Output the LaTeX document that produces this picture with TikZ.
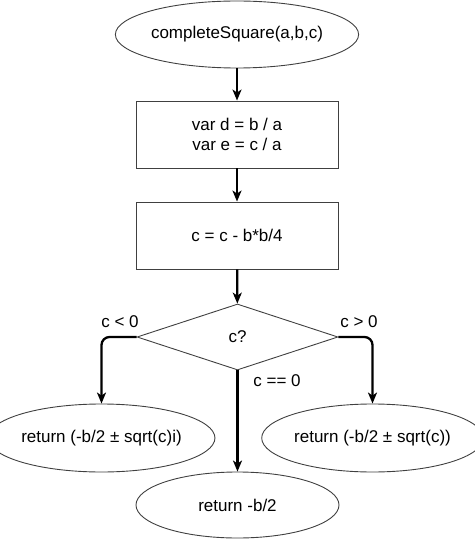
\documentclass[tikz,border=0pt]{standalone}
\usepackage{fontspec}
\setmainfont{Liberation Sans}
\usetikzlibrary{shapes.geometric,arrows.meta}
\begin{document}
\begin{tikzpicture}[x=1pt,y=-1pt,
  every node/.style={font=\fontsize{17}{20.5}\selectfont, text=black},
  term/.style={ellipse, draw=black!75, line width=0.9pt, minimum width=202pt, minimum height=67pt, inner sep=0pt},
  procbox/.style={rectangle, draw=black!75, line width=0.9pt, minimum width=202pt, minimum height=67pt, inner sep=0pt, align=center},
  decide/.style={diamond, draw=black!75, line width=0.9pt, minimum width=201pt, minimum height=66pt, inner sep=0pt, aspect=3},
  flow/.style={draw=black, line width=2.3pt, -{Stealth[length=11pt,width=9pt,inset=3pt]}, rounded corners=8pt},
  lbl/.style={inner sep=0pt}
]
\useasboundingbox (0,0) rectangle (474,540);
\node[term] (start) at (237,34.5) {completeSquare(a,b,c)};
\node[procbox] (p1) at (237,134.5) {var d = b / a\\var e = c / a};
\node[procbox] (p2) at (237,235.5) {c = c - b*b/4};
\node[decide] (dec) at (237.5,337) {c?};
\node[term, minimum width=203pt, minimum height=68pt] (left) at (101.5,438) {return (-b/2 ± sqrt(c)i)};
\node[term, minimum width=203pt, minimum height=68pt] (right) at (372.5,438) {return (-b/2 ± sqrt(c))};
\node[term, minimum width=203pt, minimum height=66pt] (bot) at (237.5,505) {return -b/2};
\draw[flow] (start) -- (p1);
\draw[flow] (p1) -- (p2);
\draw[flow] (p2) -- (dec);
\draw[flow] (dec.west) -| (left.north);
\draw[flow] (dec.east) -| (right.north);
\draw[flow] (dec.south) -- (bot.north);
\node[lbl] (lt) at (120,322) {c < 0};
\node[lbl] (gt) at (359,322) {c > 0};
\node[lbl] (eq) at (277,381) {c == 0};
\end{tikzpicture}
\end{document}
